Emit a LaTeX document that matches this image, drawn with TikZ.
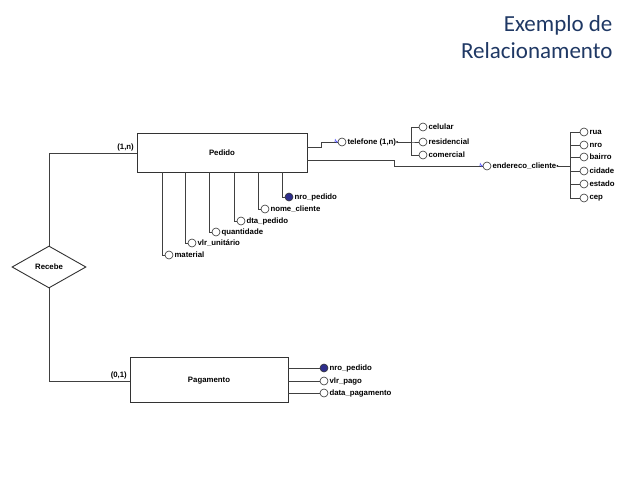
\documentclass[tikz,border=0pt]{standalone}
\usepackage{fontspec}
\setmainfont{Liberation Sans}
\newfontfamily\titlefont{Carlito}
\usetikzlibrary{shapes.geometric}
\definecolor{titleblue}{HTML}{1F3864}
\definecolor{keyblue}{HTML}{2E2E8C}
\begin{document}
\begin{tikzpicture}[x=1pt,y=-1pt,
  ln/.style={draw=black!75,line width=0.8pt},
  ent/.style={draw=black!80,line width=0.9pt,fill=white},
  lab/.style={font=\fontsize{7.8}{8}\selectfont\bfseries,inner sep=1pt},
  att/.style={circle,draw=black!80,line width=0.6pt,fill=white,minimum size=8pt,inner sep=0pt},
  key/.style={att,fill=keyblue},
  atxt/.style={lab,anchor=west}]
\useasboundingbox (0,0) rectangle (638,479);
\node[font=\titlefont\fontsize{23}{26}\selectfont,text=titleblue,anchor=east] (t1) at (616,25) {Exemplo de};
\node[font=\titlefont\fontsize{23}{26}\selectfont,text=titleblue,anchor=east] (t2) at (616,51) {Relacionamento};
% entities
\draw[ent] (137,133) rectangle (307,172);
\node[lab] (ped) at (222,153) {Pedido};
\draw[ent] (130,357) rectangle (288,402);
\node[lab] (pag) at (209,381) {Pagamento};
\node[diamond,ent,minimum width=74pt,minimum height=42pt,inner sep=0pt,aspect=1.8,lab] (rec) at (49,267) {Recebe};
% relationship lines
\draw[ln] (rec.north) |- (137,153);
\draw[ln] (rec.south) |- (130,381);
\node[lab,anchor=south east] (c1) at (135,152) {(1,n)};
\node[lab,anchor=south east] (c2) at (128,380) {(0,1)};
% pedido attributes
\foreach \x/\y/\n/\t/\s in {162/255/a1/material/att,185/243/a2/vlr\_unitário/att,209/232/a3/quantidade/att,234/221/a4/dta\_pedido/att,258/209/a5/nome\_cliente/att,282/197/a6/nro\_pedido/key}{
  \node[\s] (\n) at (\x+7,\y) {};
  \draw[ln] (\x,172) |- (\n.west);
  \node[atxt] at (\n.east) {\t};
}
% pagamento attributes
\foreach \y/\n/\t/\s in {368/p1/nro\_pedido/key,381/p2/vlr\_pago/att,393/p3/data\_pagamento/att}{
  \node[\s] (\n) at (324,\y) {};
  \draw[ln] (288,\y) -- (\n.west);
  \node[atxt] at (\n.east) {\t};
}
% telefone
\node[att] (tel) at (342,142) {};
\draw[ln] (307,147) -- (321,147) -- (321,142) -- (tel.west);
\draw[blue!70,line width=0.5pt] (335,139) -- (337,143) (334,141) -- (338,141);
\node[atxt] (telt) at (tel.east) {telefone (1,n)};
\fill (telt.east) circle (1pt);
\foreach \y/\n/\t in {127/tc/celular,142/tr/residencial,155/tm/comercial}{
  \node[att] (\n) at (423,\y) {};
  \draw[ln] (telt.east) -- (411,142) -- (411,\y) -- (\n.west);
  \node[atxt] at (\n.east) {\t};
}
% endereco
\node[att] (end) at (487,166) {};
\draw[ln] (307,160) -- (394,160) -- (394,166) -- (end.west);
\draw[blue!70,line width=0.5pt] (480,163) -- (482,167) (479,165) -- (483,165);
\node[atxt] (endt) at (end.east) {endereco\_cliente};
\fill (endt.east) circle (1pt);
\foreach \y/\n/\t in {132/e1/rua,145/e2/nro,157/e3/bairro,171/e4/cidade,184/e5/estado,198/e6/cep}{
  \node[att] (\n) at (584,\y) {};
  \draw[ln] (endt.east) -- (570,166) -- (570,\y) -- (\n.west);
  \node[atxt] at (\n.east) {\t};
}
\end{tikzpicture}
\end{document}
